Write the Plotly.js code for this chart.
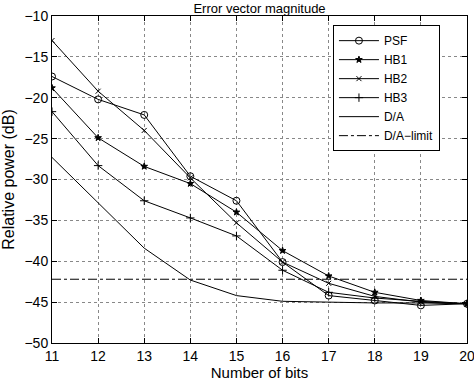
<!DOCTYPE html>
<html><head><meta charset="utf-8">
<script src="https://cdn.plot.ly/plotly-3.0.1.min.js"></script>
<style>html,body{margin:0;padding:0;background:#fff}#c{width:474px;height:381px}</style>
</head><body><div id="c"></div>
<script>
var bits = [11,12,13,14,15,16,17,18,19,20];
var psf = [-17.4,-20.2,-22.1,-29.6,-32.6,-40.1,-44.2,-44.8,-45.4,-45.2];
var hb1 = [-18.8,-24.9,-28.4,-30.5,-34.0,-38.7,-41.8,-43.8,-44.8,-45.2];
var hb2 = [-13.0,-19.2,-24.0,-29.8,-35.3,-40.1,-42.7,-44.3,-45.0,-45.2];
var hb3 = [-21.7,-28.3,-32.6,-34.7,-36.9,-41.1,-43.8,-44.5,-44.9,-45.2];
var da  = [-27.3,-32.9,-38.4,-42.3,-44.2,-44.9,-45.0,-45.1,-45.1,-45.2];
var daLimit = -42.2;
var names = ['PSF','HB1','HB2','HB3','D/A','D/A\u2212limit'];

var lineStyle = {color:'#000', width:1};
var traces = [
  {x:bits, y:psf, name:names[0], mode:'lines+markers', line:lineStyle, marker:{symbol:'circle-open', size:7, color:'#000', line:{width:1}}},
  {x:bits, y:hb1, name:names[1], mode:'lines+markers', line:lineStyle, marker:{symbol:'star', size:5, color:'#000', line:{width:1,color:'#000'}}},
  {x:bits, y:hb2, name:names[2], mode:'lines+markers', line:lineStyle, marker:{symbol:'x-thin-open', size:5, color:'#000', line:{width:1,color:'#000'}}},
  {x:bits, y:hb3, name:names[3], mode:'lines+markers', line:lineStyle, marker:{symbol:'cross-thin-open', size:6, color:'#000', line:{width:1,color:'#000'}}},
  {x:bits, y:da, name:names[4], mode:'lines', line:lineStyle},
  {x:[bits[0], bits[bits.length-1]], y:[daLimit, daLimit], name:names[5], mode:'lines', line:{color:'#000', width:1, dash:'dashdot'}}
];

var axisCommon = {
  automargin:false,
  showline:true, mirror:'ticks', linecolor:'#000', linewidth:1,
  ticks:'inside', ticklen:5, tickcolor:'#000',
  showgrid:true, gridcolor:'#888', griddash:'dot', gridwidth:1,
  zeroline:false, ticklabeloverflow:'allow',
  tickfont:{family:'Liberation Sans, Arial, sans-serif', size:14, color:'#000'}
};
var layout = {
  width:474, height:381,
  margin:{l:52, r:7, t:16, b:38},
  paper_bgcolor:'#fff', plot_bgcolor:'#fff',
  font:{family:'Liberation Sans, Arial, sans-serif', size:14, color:'#000'},
  title:{text:'Error vector magnitude', x:0.5, xanchor:'center', xref:'paper', y:0.978, yref:'container', yanchor:'middle', pad:{t:0,b:0}, font:{size:13}},
  xaxis:Object.assign({}, axisCommon, {range:[11,20], dtick:1, tick0:11, title:{text:'Number of bits', standoff:4, font:{size:15}}}),
  yaxis:Object.assign({}, axisCommon, {range:[-50,-10], dtick:5, tick0:-50, title:{text:'Relative power (dB)', standoff:6, font:{size:16}}}),
  showlegend:true,
  legend:{x:0.677, y:0.972, xanchor:'left', yanchor:'top', bgcolor:'#fff', bordercolor:'#000', borderwidth:1,
          font:{size:12}, tracegroupgap:0, itemwidth:40},
};
Plotly.newPlot('c', traces, layout, {staticPlot:true, displayModeBar:false});
</script></body></html>
